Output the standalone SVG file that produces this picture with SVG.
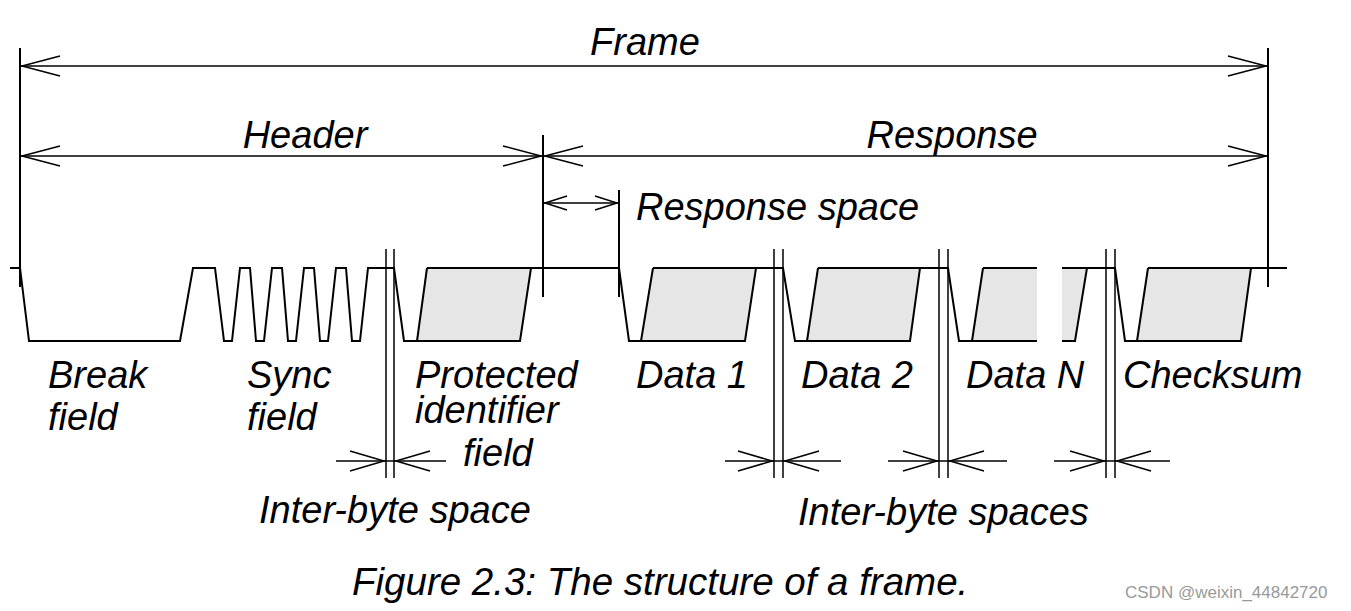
<svg xmlns="http://www.w3.org/2000/svg" width="1351" height="611" viewBox="0 0 1351 611">
<style>
.l{stroke:#000;stroke-width:2;fill:none}
.t{stroke:#000;stroke-width:1.5;fill:none}
.p{fill:#e6e6e6;stroke:none}
text{font-family:"Liberation Sans",Arial,sans-serif;font-style:italic;font-size:38px;fill:#000}
</style>
<rect width="1351" height="611" fill="#fff"/>
<g id="signal">
<polygon class="p" points="417,341 520,341 531,268 427,268"/>
<polygon class="p" points="641,341 745,341 756,268 653,268"/>
<polygon class="p" points="807,341 910,341 920,268 818,268"/>
<polygon class="p" points="972,341 1037,341 1037,268 983,268"/>
<polygon class="p" points="1062,341 1075,341 1087,268 1062,268"/>
<polygon class="p" points="1137,341 1241,341 1251,268 1148,268"/>
<polyline class="l" points="10,268 20,268 29,341 180,341 193,268 215,268 224,341 232,341 240,268 250,268 256,341 264,341 272,268 282,268 288,341 296,341 304,268 314,268 320,341 328,341 336,268 346,268 352,341 360,341 368,268 394,268 404,341 520,341 531,268 619,268 629,341 745,341 756,268 783,268 795,341 910,341 920,268 948,268 959,341 1037,341"/>
<line class="l" x1="417" y1="341" x2="427" y2="268"/>
<line class="l" x1="427" y1="268" x2="531" y2="268"/>
<line class="l" x1="641" y1="341" x2="653" y2="268"/>
<line class="l" x1="653" y1="268" x2="756" y2="268"/>
<line class="l" x1="807" y1="341" x2="818" y2="268"/>
<line class="l" x1="818" y1="268" x2="920" y2="268"/>
<line class="l" x1="972" y1="341" x2="983" y2="268"/>
<line class="l" x1="983" y1="268" x2="1037" y2="268"/>
<polyline class="l" points="1062,341 1075,341 1087,268 1062,268"/>
<polyline class="l" points="1087,268 1115,268 1125,341 1241,341 1251,268 1287,268"/>
<line class="l" x1="1137" y1="341" x2="1148" y2="268"/>
<line class="l" x1="1148" y1="268" x2="1251" y2="268"/>
</g>
<g id="connectors">
<line class="l" x1="20" y1="48" x2="20" y2="287"/>
<line class="l" x1="1268" y1="48" x2="1268" y2="287"/>
<line class="l" x1="543" y1="135" x2="543" y2="297"/>
<line class="l" x1="619" y1="190" x2="619" y2="297"/>
<line class="t" x1="20" y1="66" x2="1268" y2="66"/>
<polyline class="t" points="60,56 22,66 60,76"/>
<polyline class="t" points="1228,56 1266,66 1228,76"/>
<line class="t" x1="20" y1="156" x2="1268" y2="156"/>
<polyline class="t" points="60,146 22,156 60,166"/>
<polyline class="t" points="503,146 541,156 503,166"/>
<polyline class="t" points="583,146 545,156 583,166"/>
<polyline class="t" points="1228,146 1266,156 1228,166"/>
<line class="t" x1="543" y1="203" x2="619" y2="203"/>
<polyline class="t" points="567,196 545,203 567,210"/>
<polyline class="t" points="595,196 617,203 595,210"/>
<g id="ibs">
<line class="t" x1="386" y1="249" x2="386" y2="478"/><line class="t" x1="394" y1="249" x2="394" y2="478"/>
<line class="t" x1="336" y1="461" x2="446" y2="461"/>
<polyline class="t" points="350,451 384,461 350,471"/><polyline class="t" points="430,451 396,461 430,471"/>
<line class="t" x1="774" y1="249" x2="774" y2="478"/><line class="t" x1="783" y1="249" x2="783" y2="478"/>
<line class="t" x1="725" y1="461" x2="841" y2="461"/>
<polyline class="t" points="738,451 772,461 738,471"/><polyline class="t" points="819,451 785,461 819,471"/>
<line class="t" x1="939" y1="249" x2="939" y2="478"/><line class="t" x1="948" y1="249" x2="948" y2="478"/>
<line class="t" x1="888" y1="461" x2="1007" y2="461"/>
<polyline class="t" points="903,451 937,461 903,471"/><polyline class="t" points="984,451 950,461 984,471"/>
<line class="t" x1="1106" y1="249" x2="1106" y2="478"/><line class="t" x1="1115" y1="249" x2="1115" y2="478"/>
<line class="t" x1="1054" y1="461" x2="1170" y2="461"/>
<polyline class="t" points="1070,451 1104,461 1070,471"/><polyline class="t" points="1151,451 1117,461 1151,471"/>
</g>
</g>
<g id="labels">
<text x="645" y="55" text-anchor="middle">Frame</text>
<text x="305" y="148" text-anchor="middle">Header</text>
<text x="952" y="148" text-anchor="middle">Response</text>
<text x="636" y="220">Response space</text>
<text x="48" y="388">Break</text><text x="48" y="430">field</text>
<text x="247" y="388">Sync</text><text x="247" y="430">field</text>
<text x="415" y="388">Protected</text><text x="415" y="423">identifier</text><text x="463" y="466">field</text>
<text x="636" y="388">Data 1</text>
<text x="801" y="388">Data 2</text>
<text x="966" y="388">Data N</text>
<text x="1123" y="388">Checksum</text>
<text x="259" y="523">Inter-byte space</text>
<text x="798" y="525">Inter-byte spaces</text>
<text x="352" y="595" style="font-size:38.5px">Figure 2.3: The structure of a frame.</text>
<text x="1125" y="598" style="font-size:17px;font-style:normal;fill:#999">CSDN @weixin_44842720</text>
</g>
</svg>
